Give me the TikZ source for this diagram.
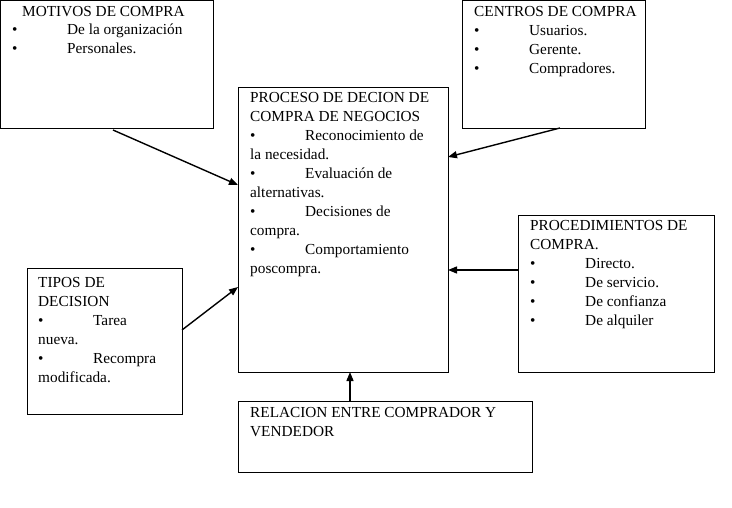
\documentclass[tikz,border=0pt]{standalone}
\usepackage{fontspec}
\setmainfont{Liberation Serif}
\usetikzlibrary{arrows.meta}
\begin{document}
\begin{tikzpicture}[x=1pt,y=-1pt,
  box/.style={draw,line width=0.8pt},
  txt/.style={anchor=north west,align=left,inner sep=0pt,font=\fontsize{15.3}{19}\selectfont},
  arr/.style={-{Triangle[length=9pt,width=7pt]},line width=1.4pt}]
\useasboundingbox (0,0) rectangle (732,508);
\newcommand{\bl}[2]{\makebox[#1pt][l]{\textbullet}#2}
\draw[box] (0,0) rectangle (213,128); \coordinate (m) at (113,130);
\node[txt] (tm) at (22,6) {MOTIVOS DE COMPRA\\[-1pt]
\hspace*{-10pt}\bl{55}{De la organización}\\
\hspace*{-10pt}\bl{55}{Personales.}};
\draw[box] (462,0) rectangle (645,128); \coordinate (c) at (560,128);
\node[txt] (tc) at (474,6) {CENTROS DE COMPRA\\
\bl{55}{Usuarios.}\\
\bl{55}{Gerente.}\\
\bl{55}{Compradores.}};
\draw[box] (238,87) rectangle (448,372);
\coordinate (pa) at (238,185); \coordinate (pb) at (448,157);
\coordinate (pc) at (448,270); \coordinate (pd) at (238,287); \coordinate (pe) at (350,372);
\node[txt] (tp) at (250,92) {PROCESO DE DECION DE\\COMPRA DE NEGOCIOS\\
\bl{55}{Reconocimiento de}\\la necesidad.\\
\bl{55}{Evaluación de}\\alternativas.\\
\bl{55}{Decisiones de}\\compra.\\
\bl{55}{Comportamiento}\\poscompra.};
\draw[box] (518,215) rectangle (714,372); \coordinate (r) at (518,270);
\node[txt] (tr) at (530,220) {PROCEDIMIENTOS DE\\COMPRA.\\
\bl{55}{Directo.}\\
\bl{55}{De servicio.}\\
\bl{55}{De confianza}\\
\bl{55}{De alquiler}};
\draw[box] (27,268) rectangle (182,414); \coordinate (t) at (182,330);
\node[txt] (tt) at (38,277) {TIPOS DE\\DECISION\\
\bl{55}{Tarea}\\nueva.\\
\bl{55}{Recompra}\\modificada.};
\draw[box] (238,401) rectangle (532,472); \coordinate (rel) at (350,401);
\node[txt] (trel) at (250,407) {RELACION ENTRE COMPRADOR Y\\VENDEDOR};
\draw[arr] (m) -- (pa);
\draw[arr] (c) -- (pb);
\draw[arr] (r) -- (pc);
\draw[arr] (t) -- (pd);
\draw[arr] (rel) -- (pe);
\end{tikzpicture}
\end{document}
